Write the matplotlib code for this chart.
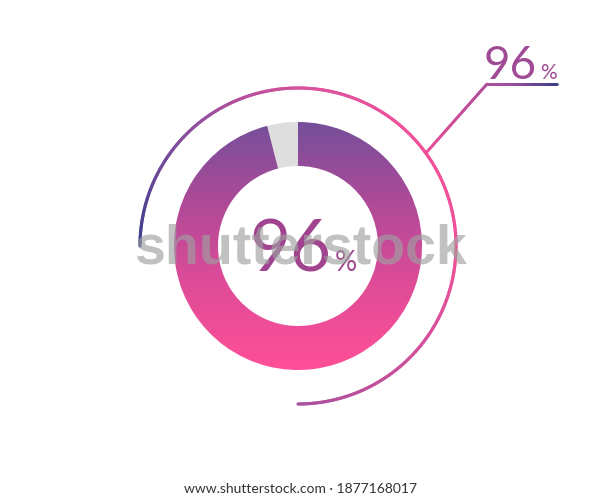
import numpy as np
import matplotlib
matplotlib.use("Agg")
import matplotlib.pyplot as plt
from matplotlib.patches import Wedge
from matplotlib.collections import LineCollection
from matplotlib.colors import LinearSegmentedColormap

# data
percent = 96
label_big = "96"
label_pct = "%"
footer = "www.shutterstock.com · 1877168017"

W, H = 600, 499
fig = plt.figure(figsize=(6, 4.99), dpi=100)
ax = fig.add_axes([0, 0, 1, 1])
ax.set_xlim(0, W)
ax.set_ylim(0, H)
ax.set_aspect("equal")
ax.axis("off")

def py(y):
    # pixel row -> y-up coordinate
    return H - y

cx, cy = 298, py(246)
r_out, r_in = 124, 80

# donut: grey remainder then gradient-filled share
rest = 100 - percent
a0 = 90
a1 = 90 + rest * 3.6
ax.add_patch(Wedge((cx, cy), r_out, a0, a1, width=r_out - r_in,
                   facecolor="#dedede", edgecolor="none"))

donut_cmap = LinearSegmentedColormap.from_list(
    "donut", ["#ff4f97", "#e14c98", "#b04a98", "#744f9a"])
grad = np.linspace(0, 1, 256).reshape(-1, 1)
share = Wedge((cx, cy), r_out, a1, a0 + 360, width=r_out - r_in,
              facecolor="none", edgecolor="none")
ax.add_patch(share)
img = ax.imshow(grad, cmap=donut_cmap, origin="lower", aspect="auto",
                extent=[cx - r_out, cx + r_out, cy - r_out, cy + r_out],
                zorder=1)
img.set_clip_path(share)

def grad_line(x, y, cmap, lw):
    pts = np.column_stack([x, y]).reshape(-1, 1, 2)
    segs = np.concatenate([pts[:-1], pts[1:]], axis=1)
    lc = LineCollection(segs, cmap=cmap, linewidth=lw, capstyle="round")
    lc.set_array(np.linspace(0, 1, len(segs)))
    ax.add_collection(lc)

# outer arc from left, over the top, down to the bottom
r_arc = 158
arc_cmap = LinearSegmentedColormap.from_list(
    "arc", ["#3c3f8c", "#8a4f9e", "#d8509c", "#f2529a", "#f0519a",
            "#d0509c", "#a8509e"])
t = np.radians(np.linspace(180, -90, 300))
grad_line(cx + r_arc * np.cos(t), cy + r_arc * np.sin(t), arc_cmap, 2.3)

# leader line from the arc to the top-right label
ang = np.radians(36)
p0 = (cx + r_arc * np.cos(ang), cy + r_arc * np.sin(ang))
p1 = (487, py(84))
p2 = (557, py(84))
lead_cmap = LinearSegmentedColormap.from_list(
    "lead", ["#ec4f98", "#c24e9a", "#9a4f9e", "#3c3f8c"])
n = 100
lx = np.concatenate([np.linspace(p0[0], p1[0], n), np.linspace(p1[0], p2[0], n)])
ly = np.concatenate([np.linspace(p0[1], p1[1], n), np.linspace(p1[1], p2[1], n)])
grad_line(lx, ly, lead_cmap, 2.0)

# labels
txt_col = "#a04b96"
ax.text(537, py(79), label_big, fontsize=33, color=txt_col, family="Lato",
        ha="right", va="baseline")
ax.text(540, py(79), label_pct, fontsize=15, color=txt_col, family="Lato",
        ha="left", va="baseline")

ax.text(331, py(271), label_big, fontsize=51, color="#a0448f", family="Lato",
        ha="right", va="baseline", zorder=3)
ax.text(335, py(271), label_pct, fontsize=20, color="#a0448f", family="Lato",
        ha="left", va="baseline", zorder=3)

# watermark
ax.text(300, py(263), "shutterstock", fontsize=40, color="#a0a0a0", alpha=0.65,
        family="Liberation Sans", fontweight="bold",
        ha="center", va="baseline", zorder=4)

# footer
ax.text(300, py(489), footer, fontsize=10, color="#333333", family="Lato",
        ha="center", va="center")

fig.savefig("out.png", dpi=100)
